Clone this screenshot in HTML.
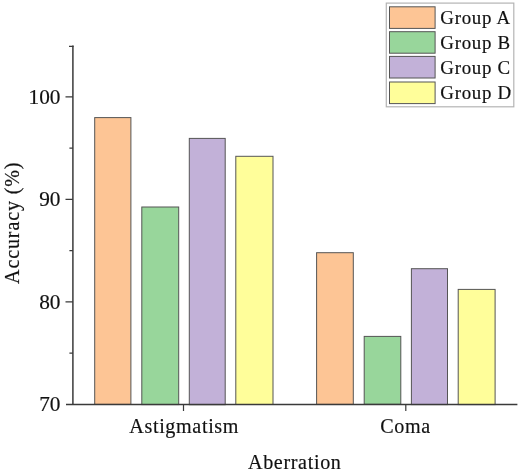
<!DOCTYPE html>
<html>
<head>
<meta charset="utf-8">
<title>Accuracy by Aberration</title>
<style>
  html, body { margin: 0; padding: 0; background: #ffffff; }
  body { width: 520px; height: 472px; overflow: hidden; }
  svg { display: block; filter: blur(0.4px); }
  text { font-family: "Liberation Serif", serif; fill: #111; stroke: #111; stroke-width: 0.18px; }
  .ax { stroke: #3a3a3a; stroke-width: 1.5; fill: none; }
  .tk { stroke: #3a3a3a; stroke-width: 1.2; fill: none; }
  .bar { stroke: #555555; stroke-width: 1; }
  .tl { font-size: 21.3px; text-anchor: end; }
  .xl { font-size: 20.1px; text-anchor: middle; letter-spacing: 0.65px; }
  .lg { font-size: 18.9px; letter-spacing: 0.7px; }
</style>
</head>
<body>
<svg width="520" height="472" viewBox="0 0 520 472">
  <rect x="0" y="0" width="520" height="472" fill="#ffffff"/>

  <!-- bars: Astigmatism -->
  <rect class="bar" x="94.7"  y="117.6" width="36.2" height="286.8" fill="#fdc595"/>
  <rect class="bar" x="141.8" y="207" width="36.9" height="197.6" fill="#98d69b"/>
  <rect class="bar" x="189.3" y="138.4" width="35.9" height="266.3" fill="#c2b1d8"/>
  <rect class="bar" x="235.8" y="156.3" width="37.2" height="248.2" fill="#fffe9a"/>
  <!-- bars: Coma -->
  <rect class="bar" x="316.6" y="252.7" width="36.7" height="151.7" fill="#fdc595"/>
  <rect class="bar" x="364.2" y="336.4" width="36.6" height="67.9"  fill="#98d69b"/>
  <rect class="bar" x="411.4" y="268.7" width="36.1" height="135.9" fill="#c2b1d8"/>
  <rect class="bar" x="458.2" y="289.4" width="36.9" height="115.2" fill="#fffe9a"/>

  <!-- axes -->
  <path class="ax" d="M72.9 45.6 V404.4"/>
  <path class="ax" d="M66 404.4 H517.4"/>
  <!-- y major ticks -->
  <path class="tk" d="M65.5 96.9 H72.9 M65.5 199.4 H72.9 M65.5 301.9 H72.9"/>
  <!-- y minor ticks -->
  <path class="tk" d="M69 46.3 H73.6 M69.4 148.1 H72.9 M69.4 250.6 H72.9 M69.4 353.1 H72.9"/>
  <!-- x ticks -->
  <path class="tk" d="M183.5 404.4 V411 M405.8 404.4 V411"/>

  <!-- y tick labels -->
  <text class="tl" x="60.5" y="103.5">100</text>
  <text class="tl" x="60.5" y="206">90</text>
  <text class="tl" x="60.5" y="308.5">80</text>
  <text class="tl" x="60.5" y="411">70</text>

  <!-- x tick labels -->
  <text class="xl" x="184.2" y="432.6">Astigmatism</text>
  <text class="xl" x="405.6" y="432.6">Coma</text>

  <!-- axis titles -->
  <text class="xl" x="294.8" y="468.8">Aberration</text>
  <text class="xl" style="letter-spacing:0.85px" transform="translate(18.5 222.8) rotate(-90)">Accuracy (%)</text>

  <!-- legend -->
  <rect x="386.3" y="3.1" width="127.5" height="103.7" fill="#ffffff" stroke="#b4b4b4" stroke-width="1.2"/>
  <rect class="bar" x="389.5" y="6.8"  width="45.6" height="21.6" fill="#fdc595"/>
  <rect class="bar" x="389.5" y="31.7" width="45.6" height="21.5" fill="#98d69b"/>
  <rect class="bar" x="389.5" y="56.4" width="45.6" height="21.6" fill="#c2b1d8"/>
  <rect class="bar" x="389.5" y="82"   width="45.6" height="21.6" fill="#fffe9a"/>
  <text class="lg" x="440.3" y="24">Group A</text>
  <text class="lg" x="440.3" y="49.1">Group B</text>
  <text class="lg" x="440.3" y="74.1">Group C</text>
  <text class="lg" x="440.3" y="98.8">Group D</text>
</svg>
</body>
</html>
